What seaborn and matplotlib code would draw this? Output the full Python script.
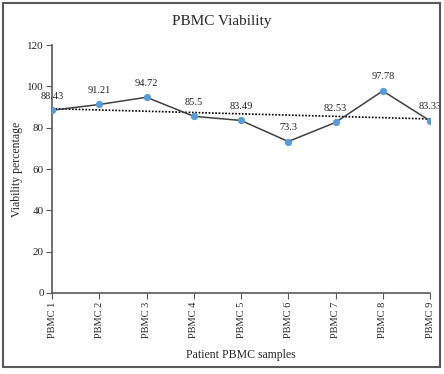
import numpy as np
import pandas as pd
import matplotlib
matplotlib.use("Agg")
import matplotlib.pyplot as plt
import seaborn as sns
from matplotlib.patches import Rectangle

samples = ["PBMC 1", "PBMC 2", "PBMC 3", "PBMC 4", "PBMC 5", "PBMC 6", "PBMC 7", "PBMC 8", "PBMC 9"]
viability = [88.43, 91.21, 94.72, 85.5, 83.49, 73.3, 82.53, 97.78, 83.33]
labels = ["88.43", "91.21", "94.72", "85.5", "83.49", "73.3", "82.53", "97.78", "83.33"]
yticks = [0, 20, 40, 60, 80, 100, 120]

sns.set_theme(style="white")
plt.rcParams['font.family'] = ['Liberation Serif', 'DejaVu Serif']

df = pd.DataFrame({"idx": np.arange(len(samples)), "sample": samples, "viability": viability})

fig = plt.figure(figsize=(4.44, 3.74), dpi=100)
ax = fig.add_axes([52/444, 1-293/374, (430-52)/444, (293-45)/374])

# trend line
coef = np.polyfit(df["idx"], df["viability"], 1)
trend = np.polyval(coef, df["idx"])
ax.plot(df["idx"], trend, color="black", linestyle=(0, (1, 1)), linewidth=1.2, zorder=2)

sns.lineplot(data=df, x="idx", y="viability", ax=ax, color="#404040", linewidth=1.1,
             marker="o", markersize=4.5, markerfacecolor="#5B9BD5", markeredgecolor="#5B9BD5",
             zorder=3)

for i, (v, t) in enumerate(zip(viability, labels)):
    ax.annotate(t, (i, v), xytext=(0, 7), textcoords="offset points", ha="center",
                va="bottom", fontsize=7.5, color="#222222")

ax.set_xlim(0, len(samples) - 1)
ax.set_ylim(0, 120)
ax.set_yticks(yticks)
ax.set_xticks(range(len(samples)))
ax.set_xticklabels(samples, rotation=90, fontsize=7.5)
ax.tick_params(axis="y", labelsize=8, length=4, width=0.8, color="#595959", direction="out", pad=2, left=True)
ax.tick_params(axis="x", length=4, width=0.8, color="#595959", direction="out", pad=2, bottom=True)
for s in ["top", "right"]:
    ax.spines[s].set_visible(False)
for s in ["left", "bottom"]:
    ax.spines[s].set_color("#595959")
    ax.spines[s].set_linewidth(1.2)
ax.set_xlabel("Patient PBMC samples", fontsize=8.5, labelpad=8)
ax.set_ylabel("Viability percentage", fontsize=8.5, labelpad=3)
fig.text(222/444, 1-22/374, "PBMC Viability", fontsize=11, ha="center", va="center")

fig.patches.append(Rectangle((3/444, 1-367/374), 437/444, 364/374, transform=fig.transFigure,
                             fill=False, edgecolor="#595959", linewidth=1.5))

fig.savefig("out.png", dpi=100)
